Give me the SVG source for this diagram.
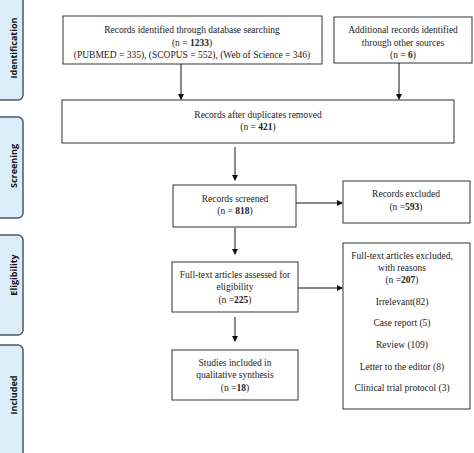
<svg xmlns="http://www.w3.org/2000/svg" width="474" height="453" viewBox="0 0 474 453">
<defs>
<marker id="ah" markerWidth="6" markerHeight="6" refX="5" refY="3" orient="auto" markerUnits="userSpaceOnUse">
<path d="M0,0 L6,3 L0,6 z" fill="#111"/>
</marker>
<style>
.tab{fill:#dcedfa;stroke:#4d5866;stroke-width:1.5}
.tl{font-family:"Open Sans","DejaVu Sans",sans-serif;font-weight:bold;font-size:9px;fill:#111;text-anchor:middle}
.box{fill:#fff;stroke:#333;stroke-width:1}
.t{font-family:"Liberation Serif","Times New Roman",serif;font-size:9.5px;fill:#222;text-anchor:middle}
.c{stroke:#111;stroke-width:1;fill:none;marker-end:url(#ah)}
</style>
</defs>
<rect width="474" height="453" fill="#fff"/>
<g id="tab-identification"><rect class="tab" x="-10" y="-10" width="33" height="110" rx="5"/><text class="tl" transform="translate(16.5,48) rotate(-90)">Identification</text></g>
<g id="tab-screening"><rect class="tab" x="-10" y="117" width="33" height="101" rx="5"/><text class="tl" transform="translate(16.5,166) rotate(-90)">Screening</text></g>
<g id="tab-eligibility"><rect class="tab" x="-10" y="235" width="33" height="100" rx="5"/><text class="tl" transform="translate(16.5,275) rotate(-90)">Eligibility</text></g>
<g id="tab-included"><rect class="tab" x="-10" y="345" width="33" height="118" rx="5"/><text class="tl" transform="translate(16.5,395) rotate(-90)">Included</text></g>

<g id="db"><rect class="box" x="63" y="16" width="259" height="48"/>
<text class="t" x="192" y="33">Records identified through database searching</text>
<text class="t" x="192" y="46">(n = <tspan font-weight="bold">1233</tspan>)</text>
<text class="t" x="192" y="58">(PUBMED = 335), (SCOPUS = 552), (Web of Science = 346)</text></g>
<g id="other"><rect class="box" x="334" y="17" width="138" height="46"/>
<text class="t" x="403" y="33">Additional records identified</text>
<text class="t" x="403" y="46">through other sources</text>
<text class="t" x="403" y="58">(n = <tspan font-weight="bold">6</tspan>)</text></g>
<g id="dup"><rect class="box" x="62" y="100" width="392" height="43"/>
<text class="t" x="258" y="118">Records after duplicates removed</text>
<text class="t" x="258" y="130">(n = <tspan font-weight="bold">421</tspan>)</text></g>
<g id="screened"><rect class="box" x="173" y="185" width="123" height="42"/>
<text class="t" x="235" y="202">Records screened</text>
<text class="t" x="235" y="214">(n = <tspan font-weight="bold">818</tspan>)</text></g>
<g id="excluded"><rect class="box" x="343" y="181" width="127" height="42"/>
<text class="t" x="406" y="197">Records excluded</text>
<text class="t" x="406" y="210">(n =<tspan font-weight="bold">593</tspan>)</text></g>
<g id="fulltext"><rect class="box" x="172" y="262" width="126" height="50"/>
<text class="t" x="235" y="278">Full-text articles assessed for</text>
<text class="t" x="235" y="290">eligibility</text>
<text class="t" x="235" y="303">(n =<tspan font-weight="bold">225</tspan>)</text></g>
<g id="included"><rect class="box" x="172" y="350" width="126" height="50"/>
<text class="t" x="235" y="366">Studies included in</text>
<text class="t" x="235" y="378">qualitative synthesis</text>
<text class="t" x="235" y="391">(n =<tspan font-weight="bold">18</tspan>)</text></g>
<g id="reasons"><rect class="box" x="343" y="243" width="127" height="166"/>
<text class="t" x="402" y="259">Full-text articles excluded,</text>
<text class="t" x="402" y="271">with reasons</text>
<text class="t" x="402" y="283">(n =<tspan font-weight="bold">207</tspan>)</text>
<text class="t" x="402" y="305">Irrelevant(82)</text>
<text class="t" x="402" y="326">Case report (5)</text>
<text class="t" x="402" y="348">Review (109)</text>
<text class="t" x="402" y="370">Letter to the editor (8)</text>
<text class="t" x="402" y="391">Clinical trial protocol (3)</text></g>

<g id="connectors">
<line class="c" x1="181" y1="64" x2="181" y2="99"/>
<line class="c" x1="399" y1="63" x2="399" y2="99"/>
<line class="c" x1="235" y1="147" x2="235" y2="180"/>
<line class="c" x1="296" y1="203" x2="342" y2="203"/>
<line class="c" x1="235" y1="228" x2="235" y2="254"/>
<line class="c" x1="235" y1="317" x2="235" y2="341"/>
<line class="c" x1="298" y1="288" x2="342" y2="288"/>
</g>
</svg>
